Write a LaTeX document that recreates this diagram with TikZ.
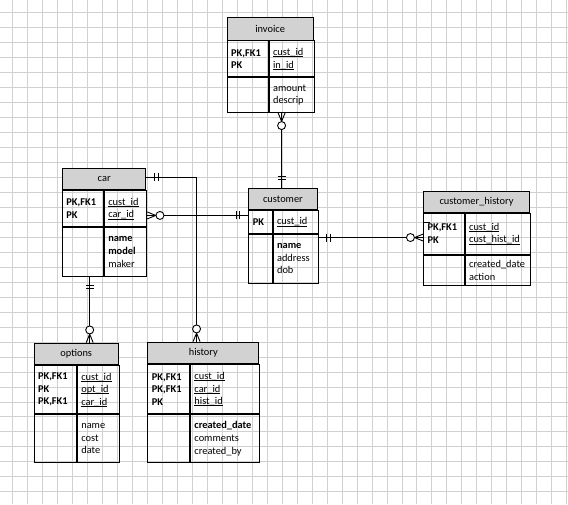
\documentclass[tikz,border=0pt]{standalone}
\usepackage{fontspec}
\setmainfont{Carlito}
\usetikzlibrary{calc,positioning}
\definecolor{hdrgray}{RGB}{210,210,210}
\definecolor{gridgray}{RGB}{208,208,208}
\newcommand{\keyname}[1]{\leavevmode\setbox0\hbox{#1}\rlap{\rule[-1.3pt]{\wd0}{0.6pt}}\box0}

\begin{document}
\begin{tikzpicture}[x=1pt,y=-1pt,line width=0.9pt,
    font=\fontsize{10.4}{12.6}\selectfont,
    hdr/.style={draw, fill=hdrgray, anchor=north west, inner sep=0pt},
    cell/.style 2 args={draw, anchor=north west, align=left, inner xsep=4pt, inner ysep=0pt, text width=#1, minimum height=#2},
    zmany/.pic={\draw (0,3.5) -- (8.5,0) -- (0,-3.5); \draw[fill=white] (12.7,0) circle (4pt);},
    onlyone/.pic={\draw (8.5,-4) -- (8.5,4) (11.7,-4) -- (11.7,4);}]
    % background grid
    \fill[white] (0,0) rectangle (568,504);
    \foreach \g in {0,...,37} \draw[gridgray, line width=0.7pt] (12+15*\g,0) -- (12+15*\g,504);
    \foreach \g in {0,...,32} \draw[gridgray, line width=0.7pt] (0,12+15*\g) -- (568,12+15*\g);
    \useasboundingbox (0,0) rectangle (568,504);

    % invoice
    \node[hdr, minimum width=86pt, minimum height=22.6pt] (invoice) at (226.7,16.7) {invoice};
    \node[cell={33pt}{36pt}] (invoiceKL) at (invoice.south west) {\textbf{PK,FK1}\\\textbf{PK}};
    \node[cell={37pt}{36pt}] (invoiceKR) at (invoiceKL.north east) {\keyname{cust\_id}\\\keyname{in\_id}};
    \node[cell={33pt}{34.7pt}] (invoiceAL) at (invoiceKL.south west) {};
    \node[cell={37pt}{34.7pt}] (invoiceAR) at (invoiceAL.north east) {amount\\descrip};

    % car
    \node[hdr, minimum width=83.6pt, minimum height=21pt] (car) at (61.7,168.3) {car};
    \node[cell={33pt}{36pt}] (carKL) at (car.south west) {\textbf{PK,FK1}\\\textbf{PK}};
    \node[cell={34.6pt}{36pt}] (carKR) at (carKL.north east) {\keyname{cust\_id}\\\keyname{car\_id}};
    \node[cell={33pt}{48.7pt}] (carAL) at (carKL.south west) {};
    \node[cell={34.6pt}{48.7pt}] (carAR) at (carAL.north east) {\textbf{name}\\\textbf{model}\\maker};

    % customer
    \node[hdr, minimum width=68.4pt, minimum height=21pt] (customer) at (248.3,188.3) {customer};
    \node[cell={15.4pt}{22.4pt}] (customerKL) at (customer.south west) {\textbf{PK}};
    \node[cell={37pt}{22.4pt}] (customerKR) at (customerKL.north east) {\keyname{cust\_id}};
    \node[cell={15.4pt}{49.3pt}] (customerAL) at (customerKL.south west) {};
    \node[cell={37pt}{49.3pt}] (customerAR) at (customerAL.north east) {\textbf{name}\\address\\dob};

    % customer_history
    \node[hdr, minimum width=106pt, minimum height=21.2pt] (chist) at (423.3,190.5) {customer\_history};
    \node[cell={32.7pt}{41pt}] (chistKL) at (chist.south west) {\textbf{PK,FK1}\\\textbf{PK}};
    \node[cell={57.3pt}{41pt}] (chistKR) at (chistKL.north east) {\keyname{cust\_id}\\\keyname{cust\_hist\_id}};
    \node[cell={32.7pt}{30.6pt}] (chistAL) at (chistKL.south west) {};
    \node[cell={57.3pt}{30.6pt}] (chistAR) at (chistAL.north east) {created\_date\\action};
    \draw ([yshift=-10pt]chistKL.north west) -- ++(7,0);

    % options
    \node[hdr, minimum width=84.4pt, minimum height=21.6pt] (options) at (33.3,342.7) {options};
    \node[cell={34.4pt}{48.4pt}] (optionsKL) at (options.south west) {\textbf{PK,FK1}\\\textbf{PK}\\\textbf{PK,FK1}};
    \node[cell={34pt}{48.4pt}] (optionsKR) at (optionsKL.north east) {\keyname{cust\_id}\\\keyname{opt\_id}\\\keyname{car\_id}};
    \node[cell={34.4pt}{48pt}] (optionsAL) at (optionsKL.south west) {};
    \node[cell={34pt}{48pt}] (optionsAR) at (optionsAL.north east) {name\\cost\\date};

    % history
    \node[hdr, minimum width=111pt, minimum height=21.6pt] (history) at (147.3,341.7) {history};
    \node[cell={33.7pt}{49.4pt}] (historyKL) at (history.south west) {\textbf{PK,FK1}\\\textbf{PK,FK1}\\\textbf{PK}};
    \node[cell={61.3pt}{49.4pt}] (historyKR) at (historyKL.north east) {\keyname{cust\_id}\\\keyname{car\_id}\\\keyname{hist\_id}};
    \node[cell={33.7pt}{48pt}] (historyAL) at (historyKL.south west) {};
    \node[cell={61.3pt}{48pt}] (historyAR) at (historyAL.north east) {\textbf{created\_date}\\comments\\created\_by};

    % relations
    \coordinate (ic1) at ([xshift=13pt]invoiceAR.south west);
    \draw (ic1) -- (ic1 |- customer.north) coordinate (ic2);
    \pic[rotate=-90] at (ic1) {zmany};
    \pic[rotate=90] at (ic2) {onlyone};

    \coordinate (cc1) at ([yshift=-6.7pt]carKR.east);
    \draw (cc1) -- (cc1 -| customer.west) coordinate (cc2);
    \pic at (cc1) {zmany};
    \pic[rotate=180] at (cc2) {onlyone};

    \coordinate (ch1) at ([yshift=-4pt]customerAR.north east);
    \draw (ch1) -- (ch1 -| chistKL.west) coordinate (ch2);
    \pic at (ch1) {onlyone};
    \pic[rotate=180] at (ch2) {zmany};

    \coordinate (hc1) at ([yshift=2pt]car.east);
    \coordinate (hc2) at ([xshift=-6.8pt]history.north);
    \draw (hc1) -| (hc2);
    \pic at (hc1) {onlyone};
    \pic[rotate=90] at (hc2) {zmany};

    \coordinate (oc1) at ([xshift=6.8pt]carAL.south);
    \draw (oc1) -- (oc1 |- options.north) coordinate (oc2);
    \pic[rotate=-90] at (oc1) {onlyone};
    \pic[rotate=90] at (oc2) {zmany};
\end{tikzpicture}
\end{document}
